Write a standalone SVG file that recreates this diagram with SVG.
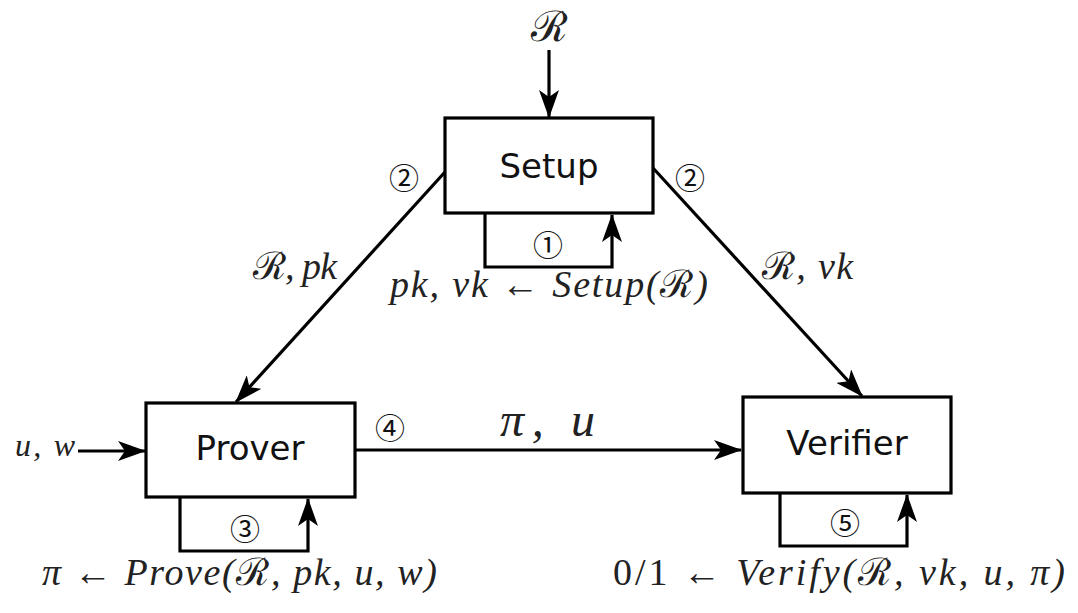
<svg xmlns="http://www.w3.org/2000/svg" width="1078" height="613" viewBox="0 0 1078 613">
<defs>
<style>
.box{fill:#fff;stroke:#000;stroke-width:3.2}
.ln{fill:none;stroke:#000;stroke-width:3.2}
.lbl{font-family:"DejaVu Sans",sans-serif;font-size:34px;fill:#111;text-anchor:middle}
.num{font-family:"Noto Sans CJK SC","DejaVu Sans",sans-serif;font-size:30px;fill:#111;text-anchor:middle}
.math{font-family:"Liberation Serif","DejaVu Serif",serif;font-style:italic;font-size:38px;fill:#222}
.up{font-style:normal}
</style>
<marker id="ah" viewBox="0 0 28 20" refX="27" refY="10" markerWidth="28" markerHeight="20" markerUnits="userSpaceOnUse" orient="auto">
<path d="M0,0 L28,10 L0,20 L7,10 z" fill="#000"/>
</marker>
</defs>
<rect width="1078" height="613" fill="#fff"/>
<g id="connectors">
<line class="ln" x1="549" y1="50" x2="549" y2="117" marker-end="url(#ah)"/>
<polyline class="ln" points="485,213 485,267 612,267 612,215" marker-end="url(#ah)"/>
<line class="ln" x1="445" y1="172" x2="236" y2="402" marker-end="url(#ah)"/>
<line class="ln" x1="653" y1="168" x2="862" y2="396" marker-end="url(#ah)"/>
<line class="ln" x1="78" y1="451" x2="145" y2="451" marker-end="url(#ah)"/>
<polyline class="ln" points="180,497 180,551 308,551 308,499" marker-end="url(#ah)"/>
<line class="ln" x1="355" y1="450" x2="741" y2="450" marker-end="url(#ah)"/>
<polyline class="ln" points="780,493 780,546 907,546 907,495" marker-end="url(#ah)"/>
</g>
<g id="setup">
<rect class="box" x="445" y="118" width="208" height="95"/>
<text class="lbl" x="549" y="178">Setup</text>
</g>
<g id="prover">
<rect class="box" x="146" y="403" width="209" height="94"/>
<text class="lbl" x="250" y="460">Prover</text>
</g>
<g id="verifier">
<rect class="box" x="743" y="397" width="208" height="96"/>
<text class="lbl" x="847" y="455">Verifier</text>
</g>
<g id="labels">
<text class="math up" x="549" y="41" text-anchor="middle" style="font-size:42px">ℛ</text>
<text class="num" x="404" y="189">②</text>
<text class="num" x="690" y="189">②</text>
<text class="num" x="548" y="256">①</text>
<text class="num" x="245" y="540">③</text>
<text class="num" x="390" y="439">④</text>
<text class="num" x="845" y="534">⑤</text>
<text class="math" x="390" y="297" textLength="318" lengthAdjust="spacing">pk, vk <tspan class="up">←</tspan> Setup(<tspan class="up">ℛ</tspan>)</text>
<text class="math" x="253" y="279" textLength="84" lengthAdjust="spacing"><tspan class="up">ℛ</tspan>, pk</text>
<text class="math" x="762" y="279" textLength="91" lengthAdjust="spacing"><tspan class="up">ℛ</tspan>, vk</text>
<text class="math" x="15" y="456" style="font-size:32px" textLength="60" lengthAdjust="spacing">u, w</text>
<text class="math" x="500" y="436" style="font-size:48px" textLength="95" lengthAdjust="spacing">π, u</text>
<text class="math" x="42" y="585" textLength="395" lengthAdjust="spacing">π <tspan class="up">←</tspan> Prove(<tspan class="up">ℛ</tspan>, pk, u, w)</text>
<text class="math" x="613" y="585" textLength="452" lengthAdjust="spacing"><tspan class="up">0/1 ←</tspan> Verify(<tspan class="up">ℛ</tspan>, vk, u, π)</text>
</g>
</svg>
